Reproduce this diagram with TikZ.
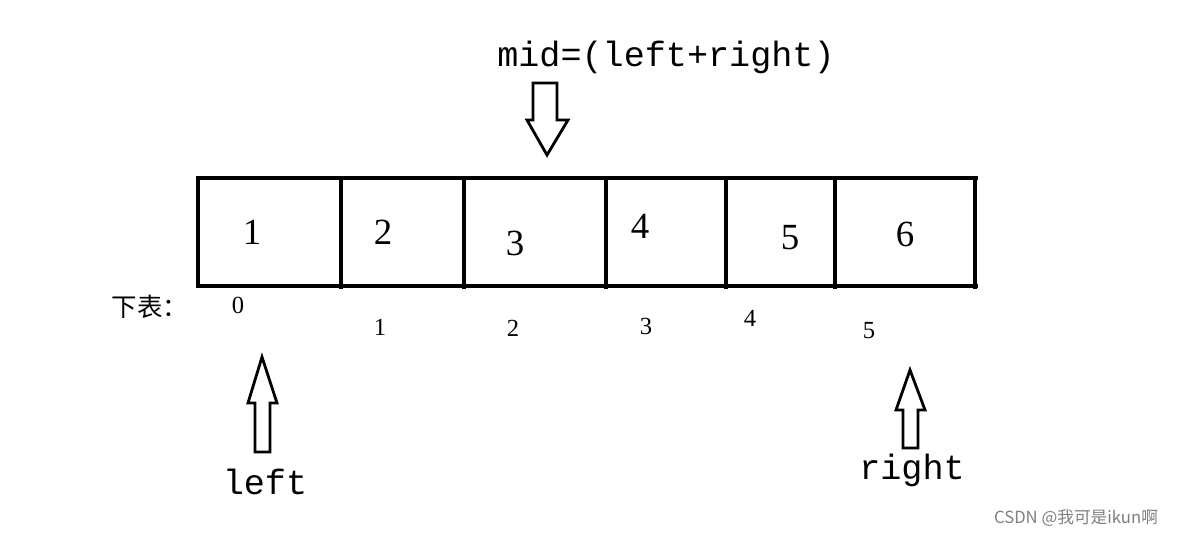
\documentclass[tikz,border=0pt]{standalone}
\usepackage{fontspec}
\setmainfont{Liberation Serif}
\newfontfamily\cjk{Noto Sans CJK SC}
\newfontfamily\monof{Liberation Mono}
\begin{document}
\begin{tikzpicture}[x=0.02cm,y=-0.02cm,
  box/.style={line width=2.2pt},
  hol/.style={line width=1.6pt, line join=miter},
  val/.style={font=\fontsize{21}{21}\selectfont},
  idx/.style={font=\fontsize{14}{14}\selectfont},
  lbl/.style={font=\monof\fontsize{20}{20}\selectfont}]
\useasboundingbox[fill=white] (0,0) rectangle (1182,538);
% array
\draw[box] (978,178) -- (198,178) -- (198,286) -- (978,286);
\foreach \x in {341,464,606,726,835,975} \draw[box] (\x,178) -- (\x,289);
\node[val] (v1) at (252,232) {1};
\node[val] (v2) at (383,232) {2};
\node[val] (v3) at (515,243) {3};
\node[val] (v4) at (640,226) {4};
\node[val] (v5) at (790,238) {5};
\node[val] (v6) at (905,234) {6};
\node[idx] (i0) at (238,305) {0};
\node[idx] (i1) at (380,327) {1};
\node[idx] (i2) at (513,328) {2};
\node[idx] (i3) at (646,326) {3};
\node[idx] (i4) at (750,318) {4};
\node[idx] (i5) at (869,331) {5};
\node[font=\cjk\fontsize{14.5}{15}\selectfont] (xb) at (150,307) {下表：};
% labels
\node[lbl] (mid) at (666,57) {mid=(left+right)};
\node[lbl] (left) at (265,482) {left};
\node[lbl] (right) at (912,470) {right};
% hollow arrows
\draw[hol] (533,83) -- (557,83) -- (557,120) -- (568,120) -- (547,155) -- (527,120) -- (533,120) -- cycle;
\draw[hol] (255,452) -- (270,452) -- (270,403) -- (277,403) -- (262,357) -- (248,403) -- (255,403) -- cycle;
\draw[hol] (903,448) -- (918,448) -- (918,410) -- (925,410) -- (910,370) -- (896,410) -- (903,410) -- cycle;
\node[font=\cjk\fontsize{9.5}{10}\selectfont, text=gray] (wm) at (1076,518) {CSDN @我可是ikun啊};
\end{tikzpicture}
\end{document}
